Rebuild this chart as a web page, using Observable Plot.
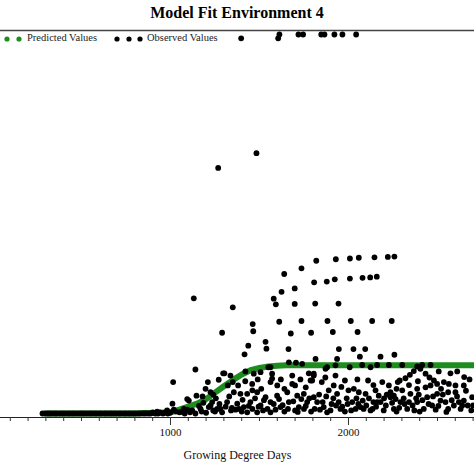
<!DOCTYPE html>
<html>
<head>
<meta charset="utf-8">
<script src="https://cdn.jsdelivr.net/npm/d3@7"></script>
<script src="https://cdn.jsdelivr.net/npm/@observablehq/plot@0.6"></script>
<style>
  body { margin: 0; background: #fff; }
  #wrap { position: relative; width: 474px; height: 474px; overflow: hidden; font-family: "Liberation Serif", serif; }
  #title { height: 28px; line-height: 26px; text-align: center; font-weight: bold; font-size: 16px; color: #000; }
  #legend { position: absolute; top: 32px; left: 0; font-size: 10.5px; color: #222; }
  #legend span { position: absolute; white-space: nowrap; top: 0; }
</style>
</head>
<body>
<div id="wrap">
  <div id="title">Model Fit Environment 4</div>
  <div id="chart"></div>
  <div id="legend"></div>
</div>
<script>
const titleText = "Model Fit Environment 4";
const xLabel = "Growing Degree Days";
const legendLabels = ["Predicted Values", "Observed Values"];
const majorTicks = [1000, 2000];
const minorTicks = [100,200,300,400,500,600,700,800,900,1100,1200,1300,1400,1500,1600,1700,1800,1900,2100,2200,2300,2400,2500,2600,2700];

// Predicted curve (GDD, value)
const predGdd   = [300,350,400,450,500,550,600,650,700,750,800,850,900,950,1000,1050,1100,1150,1200,1250,1300,1350,1400,1450,1500,1550,1600,1650,1700,1800,1900,2000,2100,2200,2300,2400,2500,2600,2708];
const predValue = [0,0,0,0,0,0,0,0,0,0,0,0.001,0.001,0.002,0.003,0.010,0.018,0.026,0.038,0.055,0.072,0.088,0.103,0.114,0.120,0.124,0.126,0.127,0.127,0.127,0.127,0.127,0.127,0.127,0.127,0.127,0.127,0.127,0.127];

// Observed values (GDD, value)
const obsBaseline = [[281,0],[295,0],[310,0],[322,0],[335,0],[350,0],[362,0],[378,0],[392,0],[405,0],[420,0],[433,0],[447,0],[460,0],[475,0],[490,0],[502,0],[515,0],[530,0],[545,0],[558,0],[572,0],[585,0],[600,0],[612,0],[628,0],[640,0],[655,0],[668,0],[682,0],[695,0],[710,0],[722,0],[738,0],[750,0],[765,0],[778,0],[792,0],[805,0],[820,0],[833,0],[848,0],[860,0],[875,0],[888,0],[900,0.003],[915,0],[930,0],[942,0.003],[958,0],[970,0.003],[985,0],[998,0.002],[1030,0.005],[1050,0.003],[1080,0],[1110,0.003],[1140,0],[1175,0.005],[1200,0.002]];
const obsTop = [[1397,0.99],[1605,0.99],[1612,1.0],[1719,1.0],[1745,1.0],[1847,1.0],[1865,1.0],[1921,1.0],[1966,1.0],[2043,1.0]];
const obsMid = [[1268,0.648],[1483,0.687]];
const obsUpper = [[1131,0.304],[1350,0.280],[1290,0.213],[1462,0.236],[1465,0.217],[1437,0.179],[1534,0.189],[1539,0.171],[1580,0.303],[1592,0.288],[1624,0.321],[1639,0.368],[1611,0.242],[1663,0.170],[1676,0.211],[1698,0.330],[1698,0.289],[1736,0.383],[1736,0.244],[1790,0.213],[1807,0.346],[1813,0.290],[1819,0.403],[1878,0.348],[1882,0.244],[1912,0.215],[1923,0.354],[1929,0.407],[1944,0.290],[1946,0.170],[2008,0.409],[2008,0.356],[2013,0.244],[2028,0.170],[2051,0.215],[2058,0.411],[2079,0.358],[2094,0.170],[2122,0.359],[2133,0.244],[2146,0.412],[2159,0.361],[2221,0.413],[2243,0.244],[2258,0.414]];
const obsRise = [[1416,0.156],[1140,0.116],[1015,0.083],[1296,0.106],[1337,0.100],[1421,0.111],[1210,0.083],[1271,0.089],[1225,0.056],[1146,0.047],[1103,0.034],[1011,0.026],[1322,0.074],[1459,0.078],[1468,0.105],[1506,0.109],[1571,0.105],[1571,0.092],[1684,0.100],[1684,0.078],[1777,0.106],[1787,0.087],[1356,0.056],[1393,0.052],[1431,0.052],[1487,0.056],[1534,0.043],[1599,0.047],[1656,0.056],[1712,0.047],[1749,0.052],[1318,0.030],[1375,0.026],[1412,0.017],[1449,0.030],[1506,0.021],[1562,0.030],[1618,0.017],[1665,0.030],[1721,0.017],[1768,0.030],[1262,0.012],[1290,0.003],[1215,0.017],[1169,0.012],[1487,0.003],[1562,0.003],[1431,0.003],[1234,0.030],[1094,0.038],[1197,0.065],[1303,0.106],[1350,0.083],[1281,0.012],[1225,0.021],[1122,0.008],[1075,0.012],[1019,0.010],[981,0.008],[925,0.005],[1562,0.122],[1562,0.083],[1805,0.105],[1880,0.122],[1705,0.134],[1665,0.135],[1740,0.131],[1550,0.122]];
const obsRight = [[2064,0.150],[2180,0.150],[2258,0.155],[1815,0.144],[1936,0.144],[1871,0.118],[1927,0.127],[2007,0.122],[2077,0.128],[2124,0.122],[2161,0.128],[2227,0.128],[2302,0.128],[2386,0.124],[2414,0.128],[2461,0.128],[2433,0.105],[2404,0.118],[2367,0.112],[2345,0.102],[2320,0.093],[2288,0.087],[2277,0.083],[2507,0.111],[2573,0.106],[2611,0.111],[1805,0.100],[1927,0.100],[1796,0.087],[1917,0.074],[1889,0.061],[1936,0.052],[2030,0.065],[2058,0.056],[2096,0.052],[2152,0.061],[2170,0.047],[2227,0.074],[2236,0.056],[2255,0.047],[2236,0.043],[2302,0.061],[2348,0.052],[2386,0.065],[2433,0.069],[2461,0.074],[2498,0.078],[2536,0.083],[2564,0.078],[2601,0.074],[2601,0.056],[2498,0.052],[2442,0.043],[1805,0.043],[1824,0.030],[1861,0.017],[1899,0.008],[1955,0.012],[2021,0.030],[2067,0.017],[2124,0.008],[2161,0.030],[2198,0.008],[2255,0.012],[2292,0.030],[2330,0.012],[2386,0.030],[2423,0.012],[2470,0.021],[2517,0.034],[2592,0.021],[2639,0.021],[2648,0.034],[2695,0.043],[2545,0.030],[2648,0.074],[2690,0.008],[2670,0.021]];
const obsFill = [[1250,0.005],[1340,0.008],[1365,0.010],[1400,0.005],[1460,0.012],[1520,0.008],[1590,0.010],[1640,0.005],[1700,0.008],[1750,0.012],[1790,0.005],[1840,0.010],[1880,0.003],[1930,0.021],[1980,0.005],[2040,0.012],[2100,0.021],[2140,0.030],[2210,0.021],[2270,0.005],[2360,0.021],[2400,0.005],[2490,0.010],[2560,0.012],[2620,0.030],[1640,0.065],[1600,0.074],[1510,0.065],[1460,0.061],[1380,0.074],[1700,0.074],[1760,0.069],[1850,0.083],[1980,0.087],[2000,0.061],[2110,0.087],[2190,0.083],[1990,0.040],[2080,0.034],[2200,0.040],[2310,0.040],[2380,0.040],[2480,0.087],[2560,0.056],[2650,0.096]];
const obsFill2 = [[1060,0.004],[1095,0.010],[1160,0.020],[1185,0.028],[1240,0.008],[1255,0.040],[1275,0.025],[1310,0.018],[1330,0.045],[1345,0.015],[1385,0.012],[1405,0.036],[1440,0.020],[1475,0.040],[1495,0.018],[1525,0.035],[1545,0.012],[1580,0.025],[1610,0.038],[1630,0.022],[1660,0.012],[1690,0.032],[1715,0.004],[1735,0.038],[1760,0.020],[1780,0.040],[1810,0.012],[1835,0.050],[1855,0.030],[1875,0.045],[1905,0.025],[1915,0.040],[1945,0.030],[1965,0.018],[1995,0.025],[2015,0.008],[2045,0.040],[2055,0.025],[2085,0.012],[2115,0.040],[2135,0.012],[2155,0.018],[2180,0.030],[2215,0.050],[2245,0.028],[2265,0.038],[2285,0.015],[2315,0.025],[2340,0.030],[2370,0.008],[2395,0.050],[2415,0.035],[2450,0.025],[2475,0.045],[2505,0.020],[2530,0.050],[2550,0.004],[2580,0.035],[2610,0.045],[2630,0.012],[2660,0.060],[2680,0.090],[2700,0.021],[2520,0.065],[2455,0.095],[2390,0.085],[2340,0.075],[2270,0.065],[2140,0.075],[2050,0.090],[1960,0.070],[1870,0.095],[1730,0.090],[1620,0.090],[1490,0.090],[1420,0.085],[1240,0.050],[1180,0.045]];

const xDomain = [45, 2708];
const yDomain = [-0.0106, 1.0106];

const predicted = predGdd.map((g, i) => ({gdd: g, value: predValue[i]}));
const observed = [...obsBaseline, ...obsTop, ...obsMid, ...obsUpper, ...obsRise, ...obsRight, ...obsFill, ...obsFill2].map(([g, v]) => ({gdd: g, value: v}));

const green = "#1e8c1e";

const plot = Plot.plot({
  width: 474,
  height: 446,
  marginLeft: 0,
  marginRight: 0,
  marginTop: 2,
  marginBottom: 57,
  style: {fontFamily: "Liberation Serif, serif", fontSize: "11px", color: "#111", background: "#fff", overflow: "visible"},
  x: {domain: xDomain, axis: null, label: xLabel},
  y: {domain: yDomain, axis: null},
  marks: [
    Plot.ruleY([yDomain[1]], {stroke: "#444", strokeWidth: 1.5}),
    Plot.line(predicted, {x: "gdd", y: "value", stroke: green, strokeWidth: 6}),
    Plot.dot(observed, {x: "gdd", y: "value", r: 2.9, fill: "#000", stroke: "none"}),
    Plot.ruleY([yDomain[0]], {stroke: "#222", strokeWidth: 1}),
    Plot.axisX(minorTicks, {tickSize: 4, tickFormat: () => "", label: null, stroke: "#333"}),
    Plot.axisX(majorTicks, {tickSize: 8, tickPadding: 3, tickFormat: d => String(d), label: xLabel, labelAnchor: "center", labelOffset: 41, labelArrow: "none", fontSize: 11, stroke: "#333"})
  ]
});
plot.querySelectorAll("text").forEach(t => { if (t.textContent === xLabel) t.style.fontSize = "12px"; });
document.getElementById("chart").appendChild(plot);

// Legend
const legend = document.getElementById("legend");
function addDot(x, color) {
  const s = document.createElementNS("http://www.w3.org/2000/svg", "svg");
  s.setAttribute("width", 8); s.setAttribute("height", 8);
  s.style.position = "absolute"; s.style.left = (x - 4) + "px"; s.style.top = "3px";
  const c = document.createElementNS("http://www.w3.org/2000/svg", "circle");
  c.setAttribute("cx", 4); c.setAttribute("cy", 4); c.setAttribute("r", 2.6); c.setAttribute("fill", color);
  s.appendChild(c); legend.appendChild(s);
}
addDot(7, green); addDot(19, green);
const t1 = document.createElement("span"); t1.textContent = legendLabels[0]; t1.style.left = "27px"; legend.appendChild(t1);
addDot(117, "#000"); addDot(129, "#000"); addDot(140, "#000");
const t2 = document.createElement("span"); t2.textContent = legendLabels[1]; t2.style.left = "147px"; legend.appendChild(t2);
</script>
</body>
</html>
